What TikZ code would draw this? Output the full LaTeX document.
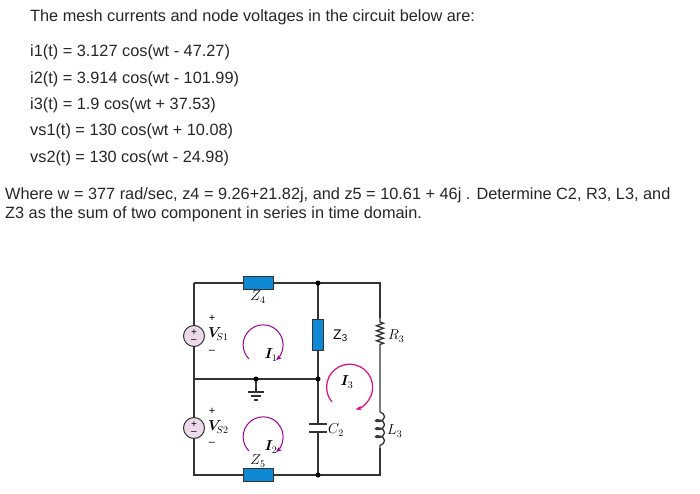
\documentclass[tikz,border=0pt]{standalone}
\usepackage{amsmath,amssymb}
\usepackage{bm}
\usepackage{fontspec}
\setmainfont{Liberation Sans}
\usetikzlibrary{arrows.meta,decorations.pathmorphing}
\begin{document}
\begin{tikzpicture}[x=1pt,y=-1pt,
  txt/.style={anchor=west,inner sep=0pt,font=\fontsize{16.3}{18}\selectfont,text=black!85},
  wire/.style={line width=1.3pt,black!80},
  imp/.style={draw=black!80,fill=cyan!70!blue,line width=1pt},
  src/.style={circle,draw=black!80,fill=violet!15,line width=1pt,minimum size=21pt,inner sep=0pt,
    font=\fontsize{10}{10}\selectfont,align=center},
  loop/.style={draw=violet!80!magenta,line width=1pt,-{Stealth[length=6pt]}},
  dot/.style={circle,fill=black,inner sep=0pt,minimum size=5pt},
  cl/.style={inner sep=0pt,font=\fontsize{14}{14}\selectfont}]
\useasboundingbox (0,0) rectangle (700,494);
\node[txt] (t0) at (30,17) {The mesh currents and node voltages in the circuit below are:};
\node[txt] (t1) at (30,52) {i1(t) = 3.127 cos(wt - 47.27)};
\node[txt] (t2) at (30,79) {i2(t) = 3.914 cos(wt - 101.99)};
\node[txt] (t3) at (30,105) {i3(t) = 1.9 cos(wt + 37.53)};
\node[txt] (t4) at (30,131) {vs1(t) = 130 cos(wt + 10.08)};
\node[txt] (t5) at (30,158) {vs2(t) = 130 cos(wt - 24.98)};
\node[txt] (t6) at (5,195) {Where w = 377 rad/sec, z4 = 9.26+21.82j, and z5 = 10.61 + 46j . Determine C2, R3, L3, and};
\node[txt] (t7) at (5,214) {Z3 as the sum of two component in series in time domain.};
% wires
\coordinate (tl) at (194,283); \coordinate (tm) at (318,283); \coordinate (tr) at (380,283);
\coordinate (ml) at (194,379); \coordinate (mm) at (318,379); \coordinate (gn) at (256,379);
\coordinate (bl) at (194,475); \coordinate (bm) at (318,475); \coordinate (br) at (380,475);
\node[src] (s1) at (194,336) {+\\[-3pt]--};
\node[src] (s2) at (194,428) {+\\[-3pt]--};
\node[imp,minimum width=30pt,minimum height=13pt,inner sep=0pt] (z4) at (258,283) {};
\node[imp,minimum width=30pt,minimum height=13pt,inner sep=0pt] (z5) at (258,475) {};
\node[imp,minimum width=11pt,minimum height=31pt,inner sep=0pt] (z3) at (318,335) {};
\draw[wire] (tl) -- (z4) -- (tr) -- (380,318);
\draw[wire] (tl) -- (s1) -- (ml) -- (mm);
\draw[wire] (ml) -- (s2) -- (bl) -- (z5) -- (br) -- (380,448);
\draw[wire] (tm) -- (z3) -- (mm) -- (318,424);
\draw[wire] (318,432) -- (bm);
\draw[wire] (380,318) -- (380,322) decorate[decoration={zigzag,segment length=5pt,amplitude=3.5pt}]{-- (380,346)} -- (380,412);
\draw[wire] (380,412) decorate[decoration={coil,aspect=0.6,segment length=8pt,amplitude=4.5pt}]{-- (380,446)} -- (380,448);
% capacitor
\draw[wire] (309,424) -- (327,424); \draw[wire] (309,432) -- (327,432);
% ground
\draw[wire] (gn) -- (256,392);
\draw[wire] (248,392) -- (264,392); \draw[wire] (251,396) -- (261,396); \draw[wire] (254,400) -- (258,400);
\foreach \p in {tm,mm,gn,bm} \node[dot] at (\p) {};
% source signs
\node[cl,font=\fontsize{11}{11}\selectfont] at (212,318) {+};
\node[cl,font=\fontsize{11}{11}\selectfont] at (212,352) {--};
\node[cl,font=\fontsize{11}{11}\selectfont] at (212,411) {+};
\node[cl,font=\fontsize{11}{11}\selectfont] at (212,444) {--};
\node[cl,anchor=west] (v1) at (208,334) {$\bm{V}_{\!S1}$};
\node[cl,anchor=west] (v2) at (208,427) {$\bm{V}_{\!S2}$};
\node[cl] (lz4) at (258,297) {$Z_4$};
\node[cl] (lz5) at (258,461) {$Z_5$};
\node[cl,anchor=west] (lz3) at (333,336) {Z\textsubscript{3}};
\node[cl,anchor=west] (lr3) at (388,336) {$R_3$};
\node[cl,anchor=west] (ll3) at (387,431) {$L_3$};
\node[cl,anchor=west] (lc2) at (328,430) {$C_2$};
\node[cl] (li1) at (271,355) {$\bm{I}_1$};
\node[cl] (li2) at (271,447) {$\bm{I}_2$};
\node[cl] (li3) at (347,382) {$\bm{I}_3$};
% loops
\draw[loop] (249,359) arc[start angle=225,end angle=-50,radius=20pt];
\draw[loop] (249,451) arc[start angle=225,end angle=-50,radius=20pt];
\draw[loop,line width=1.3pt,draw=magenta!80!violet] (332,402) arc[start angle=220,end angle=-75,radius=23pt];
\end{tikzpicture}
\end{document}
